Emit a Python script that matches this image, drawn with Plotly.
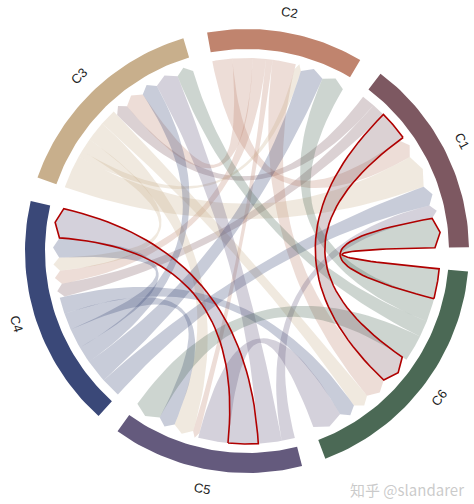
import numpy as np
import plotly.graph_objects as go

# ---------------- data ----------------
names = ["C1", "C2", "C3", "C4", "C5", "C6"]
ring_colors = ["#7d5861", "#c0846e", "#c8af8c", "#3a4878", "#645a7d", "#4b6955"]
# flows[source][target]
flows = [
    [0, 0, 4, 4, 0, 9],
    [6, 0, 6, 4, 2, 7],
    [10, 2, 0, 4, 6, 5],
    [6, 7, 5, 6, 5, 5],
    [4, 0, 7, 9, 0, 9],
    [9, 7, 5, 0, 8, 0],
]
highlight = [(0, 5), (4, 3), (5, 0)]
watermark = "知乎 @slandarer"

# ---------------- layout params ----------------
GAP = 6.3
START = 1.0
R_RING_IN, R_RING_OUT = 202, 222
R_CH = 193
R_CORNER = 188
R_TIP = 194
R_LABEL = 242
ALPHA = 0.28


def hex_rgba(h, a):
    h = h.lstrip("#")
    return "rgba(%d,%d,%d,%.3f)" % (int(h[0:2], 16), int(h[2:4], 16), int(h[4:6], 16), a)


def pt(phi, r):
    t = np.deg2rad(phi)
    return r * np.cos(t), r * np.sin(t)


def arc(p0, p1, r, n=40):
    ph = np.linspace(p0, p1, n)
    return list(r * np.cos(np.deg2rad(ph))), list(r * np.sin(np.deg2rad(ph)))


def bez(P0, P2, n=40):
    t = np.linspace(0, 1, n)
    x = (1 - t) ** 2 * P0[0] + t ** 2 * P2[0]
    y = (1 - t) ** 2 * P0[1] + t ** 2 * P2[1]
    return list(x), list(y)


M = np.array(flows, dtype=float)
n = len(names)
size = M.sum(axis=1) + M.sum(axis=0)
k = (360 - n * GAP) / size.sum()

starts, ends = [], []
s = START
for i in range(n):
    starts.append(s)
    ends.append(s + size[i] * k)
    s = s + size[i] * k + GAP

out_pos = {}
in_pos = {}
for i in range(n):
    cur = ends[i]
    for j in range(n):
        if M[i, j] > 0:
            w = M[i, j] * k
            out_pos[(i, j)] = (cur - w, cur)
            cur -= w
    for j in range(n):
        if M[j, i] > 0:
            w = M[j, i] * k
            in_pos[(j, i)] = (cur - w, cur)
            cur -= w

fig = go.Figure()


def chord_trace(i, j, hl):
    a0, a1 = out_pos[(i, j)]
    b0, b1 = in_pos[(i, j)]
    xs, ys = arc(a0, a1, R_CH)
    bx, by = bez(pt(a1, R_CH), pt(b0, R_CORNER))
    xs += bx[1:]; ys += by[1:]
    tip = pt((b0 + b1) / 2, R_TIP)
    c1 = pt(b1, R_CORNER)
    xs += [tip[0], c1[0]]; ys += [tip[1], c1[1]]
    bx, by = bez(c1, pt(a0, R_CH))
    xs += bx[1:]; ys += by[1:]
    return go.Scatter(
        x=xs, y=ys, mode="lines", fill="toself",
        fillcolor=hex_rgba(ring_colors[i], ALPHA),
        line=dict(color="#b00000" if hl else "rgba(0,0,0,0)", width=1.6 if hl else 0),
        hoverinfo="skip", showlegend=False,
    )


for i in range(n):
    for j in range(n):
        if M[i, j] > 0 and (i, j) not in highlight:
            fig.add_trace(chord_trace(i, j, False))
for (i, j) in highlight:
    fig.add_trace(chord_trace(i, j, True))

# ring segments
for i in range(n):
    xo, yo = arc(starts[i], ends[i], R_RING_OUT)
    xi, yi = arc(ends[i], starts[i], R_RING_IN)
    fig.add_trace(go.Scatter(
        x=xo + xi, y=yo + yi, mode="lines", fill="toself",
        fillcolor=ring_colors[i], line=dict(width=0, color=ring_colors[i]),
        hoverinfo="skip", showlegend=False,
    ))
    mid = (starts[i] + ends[i]) / 2
    lx, ly = pt(mid, R_LABEL)
    theta = (90 - mid) % 360
    ang = theta - 180 if 90 < theta < 270 else theta
    if ang > 180:
        ang -= 360
    fig.add_annotation(x=lx, y=ly, text=names[i], showarrow=False, textangle=ang,
                       font=dict(family="Liberation Sans, Arial", size=13, color="#222222"))

fig.add_annotation(x=160, y=-238, text=watermark, showarrow=False,
                   font=dict(family="Noto Sans CJK SC", size=15, color="rgba(185,185,185,0.75)"))

fig.update_layout(
    width=474, height=504,
    margin=dict(l=0, r=0, t=0, b=0),
    paper_bgcolor="white", plot_bgcolor="white",
    xaxis=dict(range=[-247, 227], visible=False, fixedrange=True),
    yaxis=dict(range=[-253, 251], visible=False, fixedrange=True),
    showlegend=False,
)
fig.write_html("out.html", config={"displayModeBar": False},
               post_script="document.body.style.margin='0';document.body.style.overflow='hidden';")
